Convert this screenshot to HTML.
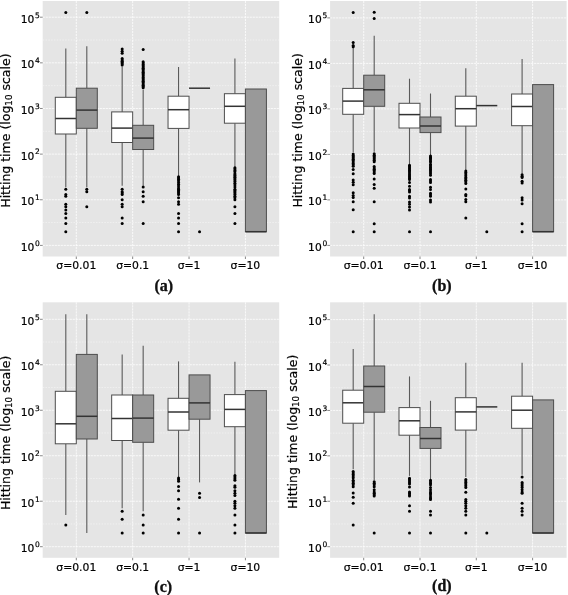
<!DOCTYPE html>
<html lang="en"><head><meta charset="utf-8"><title>Hitting time boxplots</title>
<style>
html,body{margin:0;padding:0;background:#fff;}
svg{display:block;}
text{font-family:"DejaVu Sans","Liberation Sans",sans-serif;fill:#000;stroke:#000;stroke-width:0.2;}
.yl{font-size:10.7px;}
.sup{font-size:7.5px;}
.xl{font-size:10.8px;}
.al{font-size:12.5px;}
.sub{font-size:8.75px;}
.cap{font-family:"Liberation Serif",serif;font-weight:bold;font-size:16px;fill:#111;stroke-width:0.3;}
.gM{stroke:#fff;stroke-width:0.85;stroke-opacity:0.92;stroke-dasharray:2.2 0.8;}
.gm{stroke:#fff;stroke-width:0.6;stroke-opacity:0.7;stroke-dasharray:1.6 1.2;}
.tk{stroke:#555;stroke-width:0.7;}
.wh{stroke:#5a5a5a;stroke-width:1.1;}
.bx{stroke:#4d4d4d;stroke-width:1;}
.md{stroke:#333;stroke-width:1.5;}
circle{fill:#000;}
</style></head><body>
<svg width="568" height="595" viewBox="0 0 568 595">
<rect width="568" height="595" fill="#fff"/>
<g transform="translate(0,0)">
<rect x="42.7" y="1" width="236.5" height="255.5" fill="#e5e5e5"/>
<line x1="42.7" x2="279.2" y1="245.4" y2="245.4" class="gM"/>
<line x1="42.7" x2="279.2" y1="199.76" y2="199.76" class="gM"/>
<line x1="42.7" x2="279.2" y1="154.12" y2="154.12" class="gM"/>
<line x1="42.7" x2="279.2" y1="108.48" y2="108.48" class="gM"/>
<line x1="42.7" x2="279.2" y1="62.84" y2="62.84" class="gM"/>
<line x1="42.7" x2="279.2" y1="17.2" y2="17.2" class="gM"/>
<line x1="42.7" x2="279.2" y1="222.58" y2="222.58" class="gm"/>
<line x1="42.7" x2="279.2" y1="176.94" y2="176.94" class="gm"/>
<line x1="42.7" x2="279.2" y1="131.3" y2="131.3" class="gm"/>
<line x1="42.7" x2="279.2" y1="85.66" y2="85.66" class="gm"/>
<line x1="42.7" x2="279.2" y1="40.02" y2="40.02" class="gm"/>
<line x1="76.3" x2="76.3" y1="1" y2="256.5" class="gM"/>
<line x1="76.3" x2="76.3" y1="256.5" y2="259" class="tk"/>
<line x1="132.67" x2="132.67" y1="1" y2="256.5" class="gM"/>
<line x1="132.67" x2="132.67" y1="256.5" y2="259" class="tk"/>
<line x1="189.04" x2="189.04" y1="1" y2="256.5" class="gM"/>
<line x1="189.04" x2="189.04" y1="256.5" y2="259" class="tk"/>
<line x1="245.41" x2="245.41" y1="1" y2="256.5" class="gM"/>
<line x1="245.41" x2="245.41" y1="256.5" y2="259" class="tk"/>
<line x1="39.9" x2="42.7" y1="245.4" y2="245.4" class="tk"/>
<text x="34.3" y="250.9" class="yl" text-anchor="end">10</text><text x="35.0" y="245.7" class="sup">0</text>
<line x1="39.9" x2="42.7" y1="199.76" y2="199.76" class="tk"/>
<text x="34.3" y="205.26" class="yl" text-anchor="end">10</text><text x="35.0" y="200.06" class="sup">1</text>
<line x1="39.9" x2="42.7" y1="154.12" y2="154.12" class="tk"/>
<text x="34.3" y="159.62" class="yl" text-anchor="end">10</text><text x="35.0" y="154.42" class="sup">2</text>
<line x1="39.9" x2="42.7" y1="108.48" y2="108.48" class="tk"/>
<text x="34.3" y="113.98" class="yl" text-anchor="end">10</text><text x="35.0" y="108.78" class="sup">3</text>
<line x1="39.9" x2="42.7" y1="62.84" y2="62.84" class="tk"/>
<text x="34.3" y="68.34" class="yl" text-anchor="end">10</text><text x="35.0" y="63.14" class="sup">4</text>
<line x1="39.9" x2="42.7" y1="17.2" y2="17.2" class="tk"/>
<text x="34.3" y="22.7" class="yl" text-anchor="end">10</text><text x="35.0" y="17.5" class="sup">5</text>
<text x="76.3" y="269.4" class="xl" text-anchor="middle">σ=0.01</text>
<text x="132.67" y="269.4" class="xl" text-anchor="middle">σ=0.1</text>
<text x="189.04" y="269.4" class="xl" text-anchor="middle">σ=1</text>
<text x="245.41" y="269.4" class="xl" text-anchor="middle">σ=10</text>
<text transform="translate(9.6,130.6) rotate(-90)" class="al" text-anchor="middle">Hitting time (log<tspan class="sub" dy="2.2">10</tspan><tspan dy="-2.2"> scale)</tspan></text>
<text x="163.8" y="291.1" class="cap" text-anchor="middle">(a)</text>
<line x1="65.8" x2="65.8" y1="48.5" y2="97.3" class="wh"/>
<line x1="65.8" x2="65.8" y1="134" y2="187.3" class="wh"/>
<rect x="55.3" y="97.3" width="21" height="36.7" fill="#ffffff" class="bx"/>
<line x1="55.3" x2="76.3" y1="118.5" y2="118.5" class="md"/>
<circle cx="65.8" cy="12.5" r="1.5"/>
<circle cx="65.8" cy="189.24" r="1.5"/>
<circle cx="65.8" cy="194.56" r="1.5"/>
<circle cx="65.8" cy="196.15" r="1.5"/>
<circle cx="65.8" cy="204.18" r="1.5"/>
<circle cx="65.8" cy="206.83" r="1.5"/>
<circle cx="65.8" cy="209.89" r="1.5"/>
<circle cx="65.8" cy="213.5" r="1.5"/>
<circle cx="65.8" cy="217.92" r="1.5"/>
<circle cx="65.8" cy="223.62" r="1.5"/>
<circle cx="65.8" cy="231.66" r="1.5"/>
<line x1="86.8" x2="86.8" y1="46.3" y2="88.2" class="wh"/>
<line x1="86.8" x2="86.8" y1="128.3" y2="187.3" class="wh"/>
<rect x="76.3" y="88.2" width="21" height="40.1" fill="#999999" class="bx"/>
<line x1="76.3" x2="97.3" y1="110.1" y2="110.1" class="md"/>
<circle cx="86.8" cy="12.5" r="1.5"/>
<circle cx="86.8" cy="189.24" r="1.5"/>
<circle cx="86.8" cy="191.72" r="1.5"/>
<circle cx="86.8" cy="206.83" r="1.5"/>
<line x1="122.17" x2="122.17" y1="66.4" y2="111.9" class="wh"/>
<line x1="122.17" x2="122.17" y1="142.5" y2="185.7" class="wh"/>
<rect x="111.67" y="111.9" width="21" height="30.6" fill="#ffffff" class="bx"/>
<line x1="111.67" x2="132.67" y1="128.1" y2="128.1" class="md"/>
<circle cx="122.17" cy="49" r="1.5"/>
<circle cx="122.17" cy="51.2" r="1.5"/>
<circle cx="122.17" cy="53.3" r="1.5"/>
<circle cx="122.17" cy="58.6" r="1.5"/>
<circle cx="122.17" cy="59.9" r="1.5"/>
<circle cx="122.17" cy="61.2" r="1.5"/>
<circle cx="122.17" cy="62.5" r="1.5"/>
<circle cx="122.17" cy="63.8" r="1.5"/>
<circle cx="122.17" cy="65.1" r="1.5"/>
<circle cx="122.17" cy="189.24" r="1.5"/>
<circle cx="122.17" cy="191.72" r="1.5"/>
<circle cx="122.17" cy="193.09" r="1.5"/>
<circle cx="122.17" cy="194.56" r="1.5"/>
<circle cx="122.17" cy="199.76" r="1.5"/>
<circle cx="122.17" cy="204.18" r="1.5"/>
<circle cx="122.17" cy="206.83" r="1.5"/>
<circle cx="122.17" cy="217.92" r="1.5"/>
<circle cx="122.17" cy="223.62" r="1.5"/>
<line x1="143.17" x2="143.17" y1="89.8" y2="125.3" class="wh"/>
<line x1="143.17" x2="143.17" y1="149.5" y2="185.7" class="wh"/>
<rect x="132.67" y="125.3" width="21" height="24.2" fill="#999999" class="bx"/>
<line x1="132.67" x2="153.67" y1="138.1" y2="138.1" class="md"/>
<circle cx="143.17" cy="49.5" r="1.5"/>
<circle cx="143.17" cy="61.8" r="1.5"/>
<circle cx="143.17" cy="63.1" r="1.5"/>
<circle cx="143.17" cy="64.4" r="1.5"/>
<circle cx="143.17" cy="65.7" r="1.5"/>
<circle cx="143.17" cy="67" r="1.5"/>
<circle cx="143.17" cy="68.3" r="1.5"/>
<circle cx="143.17" cy="69.6" r="1.5"/>
<circle cx="143.17" cy="70.9" r="1.5"/>
<circle cx="143.17" cy="72.2" r="1.5"/>
<circle cx="143.17" cy="73.5" r="1.5"/>
<circle cx="143.17" cy="74.8" r="1.5"/>
<circle cx="143.17" cy="76.1" r="1.5"/>
<circle cx="143.17" cy="77.4" r="1.5"/>
<circle cx="143.17" cy="78.7" r="1.5"/>
<circle cx="143.17" cy="80" r="1.5"/>
<circle cx="143.17" cy="81.3" r="1.5"/>
<circle cx="143.17" cy="82.6" r="1.5"/>
<circle cx="143.17" cy="83.9" r="1.5"/>
<circle cx="143.17" cy="85.2" r="1.5"/>
<circle cx="143.17" cy="86.5" r="1.5"/>
<circle cx="143.17" cy="87.8" r="1.5"/>
<circle cx="143.17" cy="187.04" r="1.5"/>
<circle cx="143.17" cy="191.72" r="1.5"/>
<circle cx="143.17" cy="196.15" r="1.5"/>
<circle cx="143.17" cy="201.85" r="1.5"/>
<circle cx="143.17" cy="223.62" r="1.5"/>
<line x1="178.54" x2="178.54" y1="67" y2="96.2" class="wh"/>
<line x1="178.54" x2="178.54" y1="128.4" y2="176.4" class="wh"/>
<rect x="168.04" y="96.2" width="21" height="32.2" fill="#ffffff" class="bx"/>
<line x1="168.04" x2="189.04" y1="109.7" y2="109.7" class="md"/>
<circle cx="178.54" cy="176.7" r="1.5"/>
<circle cx="178.54" cy="177.98" r="1.5"/>
<circle cx="178.54" cy="179.35" r="1.5"/>
<circle cx="178.54" cy="180.82" r="1.5"/>
<circle cx="178.54" cy="182.41" r="1.5"/>
<circle cx="178.54" cy="184.13" r="1.5"/>
<circle cx="178.54" cy="186.02" r="1.5"/>
<circle cx="178.54" cy="188.11" r="1.5"/>
<circle cx="178.54" cy="189.24" r="1.5"/>
<circle cx="178.54" cy="190.44" r="1.5"/>
<circle cx="178.54" cy="191.72" r="1.5"/>
<circle cx="178.54" cy="193.09" r="1.5"/>
<circle cx="178.54" cy="194.56" r="1.5"/>
<circle cx="178.54" cy="197.87" r="1.5"/>
<circle cx="178.54" cy="201.85" r="1.5"/>
<circle cx="178.54" cy="204.18" r="1.5"/>
<circle cx="178.54" cy="213.5" r="1.5"/>
<circle cx="178.54" cy="217.92" r="1.5"/>
<circle cx="178.54" cy="223.62" r="1.5"/>
<circle cx="178.54" cy="231.66" r="1.5"/>
<line x1="189.04" x2="210.04" y1="88.2" y2="88.2" class="md"/>
<circle cx="199.54" cy="231.66" r="1.5"/>
<line x1="234.91" x2="234.91" y1="58.6" y2="93.7" class="wh"/>
<line x1="234.91" x2="234.91" y1="123.2" y2="167.6" class="wh"/>
<rect x="224.41" y="93.7" width="21" height="29.5" fill="#ffffff" class="bx"/>
<line x1="224.41" x2="245.41" y1="106.3" y2="106.3" class="md"/>
<circle cx="234.91" cy="167.86" r="1.5"/>
<circle cx="234.91" cy="169.09" r="1.5"/>
<circle cx="234.91" cy="170.39" r="1.5"/>
<circle cx="234.91" cy="171.79" r="1.5"/>
<circle cx="234.91" cy="173.83" r="1.5"/>
<circle cx="234.91" cy="174.93" r="1.5"/>
<circle cx="234.91" cy="176.1" r="1.5"/>
<circle cx="234.91" cy="177.33" r="1.5"/>
<circle cx="234.91" cy="178.66" r="1.5"/>
<circle cx="234.91" cy="180.07" r="1.5"/>
<circle cx="234.91" cy="181.6" r="1.5"/>
<circle cx="234.91" cy="183.25" r="1.5"/>
<circle cx="234.91" cy="185.05" r="1.5"/>
<circle cx="234.91" cy="187.04" r="1.5"/>
<circle cx="234.91" cy="189.24" r="1.5"/>
<circle cx="234.91" cy="190.44" r="1.5"/>
<circle cx="234.91" cy="191.72" r="1.5"/>
<circle cx="234.91" cy="193.09" r="1.5"/>
<circle cx="234.91" cy="194.56" r="1.5"/>
<circle cx="234.91" cy="196.15" r="1.5"/>
<circle cx="234.91" cy="197.87" r="1.5"/>
<circle cx="234.91" cy="199.76" r="1.5"/>
<circle cx="234.91" cy="206.83" r="1.5"/>
<circle cx="234.91" cy="213.5" r="1.5"/>
<circle cx="234.91" cy="223.62" r="1.5"/>
<rect x="245.41" y="89" width="21" height="142.7" fill="#999999" class="bx"/>
<line x1="245.41" x2="266.41" y1="231.7" y2="231.7" class="md"/>
</g>
<g transform="translate(287.4,0)">
<rect x="42.7" y="1" width="236.5" height="255.5" fill="#e5e5e5"/>
<line x1="42.7" x2="279.2" y1="245.4" y2="245.4" class="gM"/>
<line x1="42.7" x2="279.2" y1="199.9" y2="199.9" class="gM"/>
<line x1="42.7" x2="279.2" y1="154.4" y2="154.4" class="gM"/>
<line x1="42.7" x2="279.2" y1="108.9" y2="108.9" class="gM"/>
<line x1="42.7" x2="279.2" y1="63.4" y2="63.4" class="gM"/>
<line x1="42.7" x2="279.2" y1="17.9" y2="17.9" class="gM"/>
<line x1="42.7" x2="279.2" y1="222.65" y2="222.65" class="gm"/>
<line x1="42.7" x2="279.2" y1="177.15" y2="177.15" class="gm"/>
<line x1="42.7" x2="279.2" y1="131.65" y2="131.65" class="gm"/>
<line x1="42.7" x2="279.2" y1="86.15" y2="86.15" class="gm"/>
<line x1="42.7" x2="279.2" y1="40.65" y2="40.65" class="gm"/>
<line x1="76.3" x2="76.3" y1="1" y2="256.5" class="gM"/>
<line x1="76.3" x2="76.3" y1="256.5" y2="259" class="tk"/>
<line x1="132.6" x2="132.6" y1="1" y2="256.5" class="gM"/>
<line x1="132.6" x2="132.6" y1="256.5" y2="259" class="tk"/>
<line x1="188.9" x2="188.9" y1="1" y2="256.5" class="gM"/>
<line x1="188.9" x2="188.9" y1="256.5" y2="259" class="tk"/>
<line x1="245.2" x2="245.2" y1="1" y2="256.5" class="gM"/>
<line x1="245.2" x2="245.2" y1="256.5" y2="259" class="tk"/>
<line x1="39.9" x2="42.7" y1="245.4" y2="245.4" class="tk"/>
<text x="34.3" y="250.9" class="yl" text-anchor="end">10</text><text x="35.0" y="245.7" class="sup">0</text>
<line x1="39.9" x2="42.7" y1="199.9" y2="199.9" class="tk"/>
<text x="34.3" y="205.4" class="yl" text-anchor="end">10</text><text x="35.0" y="200.2" class="sup">1</text>
<line x1="39.9" x2="42.7" y1="154.4" y2="154.4" class="tk"/>
<text x="34.3" y="159.9" class="yl" text-anchor="end">10</text><text x="35.0" y="154.7" class="sup">2</text>
<line x1="39.9" x2="42.7" y1="108.9" y2="108.9" class="tk"/>
<text x="34.3" y="114.4" class="yl" text-anchor="end">10</text><text x="35.0" y="109.2" class="sup">3</text>
<line x1="39.9" x2="42.7" y1="63.4" y2="63.4" class="tk"/>
<text x="34.3" y="68.9" class="yl" text-anchor="end">10</text><text x="35.0" y="63.7" class="sup">4</text>
<line x1="39.9" x2="42.7" y1="17.9" y2="17.9" class="tk"/>
<text x="34.3" y="23.4" class="yl" text-anchor="end">10</text><text x="35.0" y="18.2" class="sup">5</text>
<text x="76.3" y="269.4" class="xl" text-anchor="middle">σ=0.01</text>
<text x="132.6" y="269.4" class="xl" text-anchor="middle">σ=0.1</text>
<text x="188.9" y="269.4" class="xl" text-anchor="middle">σ=1</text>
<text x="245.2" y="269.4" class="xl" text-anchor="middle">σ=10</text>
<text transform="translate(14.4,130.4) rotate(-90)" class="al" text-anchor="middle">Hitting time (log<tspan class="sub" dy="2.2">10</tspan><tspan dy="-2.2"> scale)</tspan></text>
<text x="154.5" y="291" class="cap" text-anchor="middle">(b)</text>
<line x1="65.8" x2="65.8" y1="47.5" y2="88.4" class="wh"/>
<line x1="65.8" x2="65.8" y1="114.3" y2="152" class="wh"/>
<rect x="55.3" y="88.4" width="21" height="25.9" fill="#ffffff" class="bx"/>
<line x1="55.3" x2="76.3" y1="101.1" y2="101.1" class="md"/>
<circle cx="65.8" cy="12.5" r="1.5"/>
<circle cx="65.8" cy="42.6" r="1.5"/>
<circle cx="65.8" cy="45.6" r="1.5"/>
<circle cx="65.8" cy="46.8" r="1.5"/>
<circle cx="65.8" cy="154.01" r="1.5"/>
<circle cx="65.8" cy="155.41" r="1.5"/>
<circle cx="65.8" cy="156.7" r="1.5"/>
<circle cx="65.8" cy="158.08" r="1.5"/>
<circle cx="65.8" cy="159.31" r="1.5"/>
<circle cx="65.8" cy="160.62" r="1.5"/>
<circle cx="65.8" cy="162.02" r="1.5"/>
<circle cx="65.8" cy="163.53" r="1.5"/>
<circle cx="65.8" cy="164.83" r="1.5"/>
<circle cx="65.8" cy="166.21" r="1.5"/>
<circle cx="65.8" cy="169.6" r="1.5"/>
<circle cx="65.8" cy="173.8" r="1.5"/>
<circle cx="65.8" cy="180.1" r="1.5"/>
<circle cx="65.8" cy="182.3" r="1.5"/>
<circle cx="65.8" cy="184.8" r="1.5"/>
<circle cx="65.8" cy="192.8" r="1.5"/>
<circle cx="65.8" cy="195.4" r="1.5"/>
<circle cx="65.8" cy="197.5" r="1.5"/>
<circle cx="65.8" cy="201.7" r="1.5"/>
<circle cx="65.8" cy="209.7" r="1.5"/>
<circle cx="65.8" cy="231.7" r="1.5"/>
<line x1="86.8" x2="86.8" y1="35.8" y2="75.2" class="wh"/>
<line x1="86.8" x2="86.8" y1="106.3" y2="151.7" class="wh"/>
<rect x="76.3" y="75.2" width="21" height="31.1" fill="#999999" class="bx"/>
<line x1="76.3" x2="97.3" y1="89.8" y2="89.8" class="md"/>
<circle cx="86.8" cy="12.3" r="1.5"/>
<circle cx="86.8" cy="18.6" r="1.5"/>
<circle cx="86.8" cy="153.82" r="1.5"/>
<circle cx="86.8" cy="155.21" r="1.5"/>
<circle cx="86.8" cy="156.48" r="1.5"/>
<circle cx="86.8" cy="157.85" r="1.5"/>
<circle cx="86.8" cy="159.06" r="1.5"/>
<circle cx="86.8" cy="160.35" r="1.5"/>
<circle cx="86.8" cy="161.73" r="1.5"/>
<circle cx="86.8" cy="166.58" r="1.5"/>
<circle cx="86.8" cy="168.1" r="1.5"/>
<circle cx="86.8" cy="169.32" r="1.5"/>
<circle cx="86.8" cy="170.62" r="1.5"/>
<circle cx="86.8" cy="172.02" r="1.5"/>
<circle cx="86.8" cy="173.52" r="1.5"/>
<circle cx="86.8" cy="179.1" r="1.5"/>
<circle cx="86.8" cy="184.4" r="1.5"/>
<circle cx="86.8" cy="188.2" r="1.5"/>
<circle cx="86.8" cy="201.7" r="1.5"/>
<circle cx="86.8" cy="223.69" r="1.5"/>
<circle cx="86.8" cy="231.7" r="1.5"/>
<line x1="122.1" x2="122.1" y1="78.7" y2="103.3" class="wh"/>
<line x1="122.1" x2="122.1" y1="128" y2="165" class="wh"/>
<rect x="111.6" y="103.3" width="21" height="24.7" fill="#ffffff" class="bx"/>
<line x1="111.6" x2="132.6" y1="114.6" y2="114.6" class="md"/>
<circle cx="122.1" cy="165.16" r="1.5"/>
<circle cx="122.1" cy="166.58" r="1.5"/>
<circle cx="122.1" cy="167.71" r="1.5"/>
<circle cx="122.1" cy="168.9" r="1.5"/>
<circle cx="122.1" cy="170.18" r="1.5"/>
<circle cx="122.1" cy="171.54" r="1.5"/>
<circle cx="122.1" cy="173.01" r="1.5"/>
<circle cx="122.1" cy="174.59" r="1.5"/>
<circle cx="122.1" cy="175.72" r="1.5"/>
<circle cx="122.1" cy="176.92" r="1.5"/>
<circle cx="122.1" cy="178.19" r="1.5"/>
<circle cx="122.1" cy="179.55" r="1.5"/>
<circle cx="122.1" cy="182.6" r="1.5"/>
<circle cx="122.1" cy="186.2" r="1.5"/>
<circle cx="122.1" cy="189.41" r="1.5"/>
<circle cx="122.1" cy="190.61" r="1.5"/>
<circle cx="122.1" cy="191.89" r="1.5"/>
<circle cx="122.1" cy="196.3" r="1.5"/>
<circle cx="122.1" cy="198.02" r="1.5"/>
<circle cx="122.1" cy="201.98" r="1.5"/>
<circle cx="122.1" cy="204.31" r="1.5"/>
<circle cx="122.1" cy="206.95" r="1.5"/>
<circle cx="122.1" cy="209.99" r="1.5"/>
<circle cx="122.1" cy="231.7" r="1.5"/>
<line x1="143.1" x2="143.1" y1="93.5" y2="117" class="wh"/>
<line x1="143.1" x2="143.1" y1="132.6" y2="155.8" class="wh"/>
<rect x="132.6" y="117" width="21" height="15.6" fill="#999999" class="bx"/>
<line x1="132.6" x2="153.6" y1="126" y2="126" class="md"/>
<circle cx="143.1" cy="156.05" r="1.5"/>
<circle cx="143.1" cy="157.15" r="1.5"/>
<circle cx="143.1" cy="158.32" r="1.5"/>
<circle cx="143.1" cy="159.56" r="1.5"/>
<circle cx="143.1" cy="160.89" r="1.5"/>
<circle cx="143.1" cy="162.02" r="1.5"/>
<circle cx="143.1" cy="164.17" r="1.5"/>
<circle cx="143.1" cy="165.51" r="1.5"/>
<circle cx="143.1" cy="166.95" r="1.5"/>
<circle cx="143.1" cy="168.1" r="1.5"/>
<circle cx="143.1" cy="169.32" r="1.5"/>
<circle cx="143.1" cy="170.62" r="1.5"/>
<circle cx="143.1" cy="172.02" r="1.5"/>
<circle cx="143.1" cy="173.52" r="1.5"/>
<circle cx="143.1" cy="175.14" r="1.5"/>
<circle cx="143.1" cy="179.55" r="1.5"/>
<circle cx="143.1" cy="181.02" r="1.5"/>
<circle cx="143.1" cy="182.6" r="1.5"/>
<circle cx="143.1" cy="187.22" r="1.5"/>
<circle cx="143.1" cy="189.41" r="1.5"/>
<circle cx="143.1" cy="193.25" r="1.5"/>
<circle cx="143.1" cy="194.72" r="1.5"/>
<circle cx="143.1" cy="196.3" r="1.5"/>
<circle cx="143.1" cy="199.9" r="1.5"/>
<circle cx="143.1" cy="201.98" r="1.5"/>
<circle cx="143.1" cy="231.7" r="1.5"/>
<line x1="178.4" x2="178.4" y1="68.2" y2="96.2" class="wh"/>
<line x1="178.4" x2="178.4" y1="126.1" y2="170.4" class="wh"/>
<rect x="167.9" y="96.2" width="21" height="29.9" fill="#ffffff" class="bx"/>
<line x1="167.9" x2="188.9" y1="108.7" y2="108.7" class="md"/>
<circle cx="178.4" cy="171.08" r="1.5"/>
<circle cx="178.4" cy="172.51" r="1.5"/>
<circle cx="178.4" cy="174.05" r="1.5"/>
<circle cx="178.4" cy="175.72" r="1.5"/>
<circle cx="178.4" cy="177.54" r="1.5"/>
<circle cx="178.4" cy="178.86" r="1.5"/>
<circle cx="178.4" cy="180.27" r="1.5"/>
<circle cx="178.4" cy="181.79" r="1.5"/>
<circle cx="178.4" cy="183.44" r="1.5"/>
<circle cx="178.4" cy="189" r="1.5"/>
<circle cx="178.4" cy="194.5" r="1.5"/>
<circle cx="178.4" cy="195.8" r="1.5"/>
<circle cx="178.4" cy="199.5" r="1.5"/>
<circle cx="178.4" cy="201.7" r="1.5"/>
<circle cx="178.4" cy="218.01" r="1.5"/>
<line x1="188.9" x2="209.9" y1="105.6" y2="105.6" class="md"/>
<circle cx="199.4" cy="231.7" r="1.5"/>
<line x1="234.7" x2="234.7" y1="59" y2="94" class="wh"/>
<line x1="234.7" x2="234.7" y1="125.7" y2="173.7" class="wh"/>
<rect x="224.2" y="94" width="21" height="31.7" fill="#ffffff" class="bx"/>
<line x1="224.2" x2="245.2" y1="106.5" y2="106.5" class="md"/>
<circle cx="234.7" cy="174.8" r="1.5"/>
<circle cx="234.7" cy="176.2" r="1.5"/>
<circle cx="234.7" cy="177.6" r="1.5"/>
<circle cx="234.7" cy="181.3" r="1.5"/>
<circle cx="234.7" cy="182.9" r="1.5"/>
<circle cx="234.7" cy="197.7" r="1.5"/>
<circle cx="234.7" cy="199.9" r="1.5"/>
<circle cx="234.7" cy="203.8" r="1.5"/>
<circle cx="234.7" cy="223.69" r="1.5"/>
<circle cx="234.7" cy="231.7" r="1.5"/>
<rect x="245.2" y="84.6" width="21" height="147.1" fill="#999999" class="bx"/>
<line x1="245.2" x2="266.2" y1="231.7" y2="231.7" class="md"/>
</g>
<g transform="translate(0,301.3)">
<rect x="42.7" y="1" width="236.5" height="255.5" fill="#e5e5e5"/>
<line x1="42.7" x2="279.2" y1="245.4" y2="245.4" class="gM"/>
<line x1="42.7" x2="279.2" y1="199.92" y2="199.92" class="gM"/>
<line x1="42.7" x2="279.2" y1="154.44" y2="154.44" class="gM"/>
<line x1="42.7" x2="279.2" y1="108.96" y2="108.96" class="gM"/>
<line x1="42.7" x2="279.2" y1="63.48" y2="63.48" class="gM"/>
<line x1="42.7" x2="279.2" y1="18" y2="18" class="gM"/>
<line x1="42.7" x2="279.2" y1="222.66" y2="222.66" class="gm"/>
<line x1="42.7" x2="279.2" y1="177.18" y2="177.18" class="gm"/>
<line x1="42.7" x2="279.2" y1="131.7" y2="131.7" class="gm"/>
<line x1="42.7" x2="279.2" y1="86.22" y2="86.22" class="gm"/>
<line x1="42.7" x2="279.2" y1="40.74" y2="40.74" class="gm"/>
<line x1="76.3" x2="76.3" y1="1" y2="256.5" class="gM"/>
<line x1="76.3" x2="76.3" y1="256.5" y2="259" class="tk"/>
<line x1="132.67" x2="132.67" y1="1" y2="256.5" class="gM"/>
<line x1="132.67" x2="132.67" y1="256.5" y2="259" class="tk"/>
<line x1="189.04" x2="189.04" y1="1" y2="256.5" class="gM"/>
<line x1="189.04" x2="189.04" y1="256.5" y2="259" class="tk"/>
<line x1="245.41" x2="245.41" y1="1" y2="256.5" class="gM"/>
<line x1="245.41" x2="245.41" y1="256.5" y2="259" class="tk"/>
<line x1="39.9" x2="42.7" y1="245.4" y2="245.4" class="tk"/>
<text x="34.3" y="250.9" class="yl" text-anchor="end">10</text><text x="35.0" y="245.7" class="sup">0</text>
<line x1="39.9" x2="42.7" y1="199.92" y2="199.92" class="tk"/>
<text x="34.3" y="205.42" class="yl" text-anchor="end">10</text><text x="35.0" y="200.22" class="sup">1</text>
<line x1="39.9" x2="42.7" y1="154.44" y2="154.44" class="tk"/>
<text x="34.3" y="159.94" class="yl" text-anchor="end">10</text><text x="35.0" y="154.74" class="sup">2</text>
<line x1="39.9" x2="42.7" y1="108.96" y2="108.96" class="tk"/>
<text x="34.3" y="114.46" class="yl" text-anchor="end">10</text><text x="35.0" y="109.26" class="sup">3</text>
<line x1="39.9" x2="42.7" y1="63.48" y2="63.48" class="tk"/>
<text x="34.3" y="68.98" class="yl" text-anchor="end">10</text><text x="35.0" y="63.78" class="sup">4</text>
<line x1="39.9" x2="42.7" y1="18" y2="18" class="tk"/>
<text x="34.3" y="23.5" class="yl" text-anchor="end">10</text><text x="35.0" y="18.3" class="sup">5</text>
<text x="76.3" y="269.8" class="xl" text-anchor="middle">σ=0.01</text>
<text x="132.67" y="269.8" class="xl" text-anchor="middle">σ=0.1</text>
<text x="189.04" y="269.8" class="xl" text-anchor="middle">σ=1</text>
<text x="245.41" y="269.8" class="xl" text-anchor="middle">σ=10</text>
<text transform="translate(9.6,131.6) rotate(-90)" class="al" text-anchor="middle">Hitting time (log<tspan class="sub" dy="2.2">10</tspan><tspan dy="-2.2"> scale)</tspan></text>
<text x="163.2" y="290.3" class="cap" text-anchor="middle">(c)</text>
<line x1="65.8" x2="65.8" y1="13" y2="90" class="wh"/>
<line x1="65.8" x2="65.8" y1="142.5" y2="213.6" class="wh"/>
<rect x="55.3" y="90" width="21" height="52.5" fill="#ffffff" class="bx"/>
<line x1="55.3" x2="76.3" y1="122.5" y2="122.5" class="md"/>
<circle cx="65.8" cy="223.7" r="1.5"/>
<line x1="86.8" x2="86.8" y1="13" y2="53.1" class="wh"/>
<line x1="86.8" x2="86.8" y1="137.7" y2="231.7" class="wh"/>
<rect x="76.3" y="53.1" width="21" height="84.6" fill="#999999" class="bx"/>
<line x1="76.3" x2="97.3" y1="115" y2="115" class="md"/>
<line x1="122.17" x2="122.17" y1="53.3" y2="93.7" class="wh"/>
<line x1="122.17" x2="122.17" y1="139.2" y2="206.95" class="wh"/>
<rect x="111.67" y="93.7" width="21" height="45.5" fill="#ffffff" class="bx"/>
<line x1="111.67" x2="132.67" y1="117.2" y2="117.2" class="md"/>
<circle cx="122.17" cy="210.01" r="1.5"/>
<circle cx="122.17" cy="218.02" r="1.5"/>
<circle cx="122.17" cy="231.71" r="1.5"/>
<line x1="143.17" x2="143.17" y1="44.5" y2="93.7" class="wh"/>
<line x1="143.17" x2="143.17" y1="141" y2="209.99" class="wh"/>
<rect x="132.67" y="93.7" width="21" height="47.3" fill="#999999" class="bx"/>
<line x1="132.67" x2="153.67" y1="116.8" y2="116.8" class="md"/>
<circle cx="143.17" cy="213.61" r="1.5"/>
<circle cx="143.17" cy="223.7" r="1.5"/>
<circle cx="143.17" cy="231.71" r="1.5"/>
<line x1="178.54" x2="178.54" y1="60.1" y2="97" class="wh"/>
<line x1="178.54" x2="178.54" y1="128.9" y2="175.7" class="wh"/>
<rect x="168.04" y="97" width="21" height="31.9" fill="#ffffff" class="bx"/>
<line x1="168.04" x2="189.04" y1="110.7" y2="110.7" class="md"/>
<circle cx="178.54" cy="176.7" r="1.5"/>
<circle cx="178.54" cy="178.3" r="1.5"/>
<circle cx="178.54" cy="180" r="1.5"/>
<circle cx="178.54" cy="185.27" r="1.5"/>
<circle cx="178.54" cy="189.44" r="1.5"/>
<circle cx="178.54" cy="198.04" r="1.5"/>
<circle cx="178.54" cy="206.96" r="1.5"/>
<circle cx="178.54" cy="218.02" r="1.5"/>
<circle cx="178.54" cy="231.71" r="1.5"/>
<line x1="199.54" x2="199.54" y1="117.9" y2="181.1" class="wh"/>
<rect x="189.04" y="73.6" width="21" height="44.3" fill="#999999" class="bx"/>
<line x1="189.04" x2="210.04" y1="101.6" y2="101.6" class="md"/>
<circle cx="199.54" cy="191.91" r="1.5"/>
<circle cx="199.54" cy="196.32" r="1.5"/>
<circle cx="199.54" cy="231.71" r="1.5"/>
<line x1="234.91" x2="234.91" y1="60.5" y2="93.3" class="wh"/>
<line x1="234.91" x2="234.91" y1="125.4" y2="173.4" class="wh"/>
<rect x="224.41" y="93.3" width="21" height="32.1" fill="#ffffff" class="bx"/>
<line x1="224.41" x2="245.41" y1="108.1" y2="108.1" class="md"/>
<circle cx="234.91" cy="174.08" r="1.5"/>
<circle cx="234.91" cy="175.75" r="1.5"/>
<circle cx="234.91" cy="177.57" r="1.5"/>
<circle cx="234.91" cy="178.89" r="1.5"/>
<circle cx="234.91" cy="184.4" r="1.5"/>
<circle cx="234.91" cy="185.9" r="1.5"/>
<circle cx="234.91" cy="189.4" r="1.5"/>
<circle cx="234.91" cy="192" r="1.5"/>
<circle cx="234.91" cy="194.2" r="1.5"/>
<circle cx="234.91" cy="199.92" r="1.5"/>
<circle cx="234.91" cy="202" r="1.5"/>
<circle cx="234.91" cy="204.33" r="1.5"/>
<circle cx="234.91" cy="206.96" r="1.5"/>
<circle cx="234.91" cy="213.61" r="1.5"/>
<circle cx="234.91" cy="223.7" r="1.5"/>
<circle cx="234.91" cy="231.71" r="1.5"/>
<rect x="245.41" y="89.3" width="21" height="142.4" fill="#999999" class="bx"/>
<line x1="245.41" x2="266.41" y1="231.7" y2="231.7" class="md"/>
</g>
<g transform="translate(287.4,301.3)">
<rect x="42.7" y="1" width="236.5" height="255.5" fill="#e5e5e5"/>
<line x1="42.7" x2="279.2" y1="245.4" y2="245.4" class="gM"/>
<line x1="42.7" x2="279.2" y1="199.98" y2="199.98" class="gM"/>
<line x1="42.7" x2="279.2" y1="154.56" y2="154.56" class="gM"/>
<line x1="42.7" x2="279.2" y1="109.14" y2="109.14" class="gM"/>
<line x1="42.7" x2="279.2" y1="63.72" y2="63.72" class="gM"/>
<line x1="42.7" x2="279.2" y1="18.3" y2="18.3" class="gM"/>
<line x1="42.7" x2="279.2" y1="222.69" y2="222.69" class="gm"/>
<line x1="42.7" x2="279.2" y1="177.27" y2="177.27" class="gm"/>
<line x1="42.7" x2="279.2" y1="131.85" y2="131.85" class="gm"/>
<line x1="42.7" x2="279.2" y1="86.43" y2="86.43" class="gm"/>
<line x1="42.7" x2="279.2" y1="41.01" y2="41.01" class="gm"/>
<line x1="76.3" x2="76.3" y1="1" y2="256.5" class="gM"/>
<line x1="76.3" x2="76.3" y1="256.5" y2="259" class="tk"/>
<line x1="132.6" x2="132.6" y1="1" y2="256.5" class="gM"/>
<line x1="132.6" x2="132.6" y1="256.5" y2="259" class="tk"/>
<line x1="188.9" x2="188.9" y1="1" y2="256.5" class="gM"/>
<line x1="188.9" x2="188.9" y1="256.5" y2="259" class="tk"/>
<line x1="245.2" x2="245.2" y1="1" y2="256.5" class="gM"/>
<line x1="245.2" x2="245.2" y1="256.5" y2="259" class="tk"/>
<line x1="39.9" x2="42.7" y1="245.4" y2="245.4" class="tk"/>
<text x="34.3" y="250.9" class="yl" text-anchor="end">10</text><text x="35.0" y="245.7" class="sup">0</text>
<line x1="39.9" x2="42.7" y1="199.98" y2="199.98" class="tk"/>
<text x="34.3" y="205.48" class="yl" text-anchor="end">10</text><text x="35.0" y="200.28" class="sup">1</text>
<line x1="39.9" x2="42.7" y1="154.56" y2="154.56" class="tk"/>
<text x="34.3" y="160.06" class="yl" text-anchor="end">10</text><text x="35.0" y="154.86" class="sup">2</text>
<line x1="39.9" x2="42.7" y1="109.14" y2="109.14" class="tk"/>
<text x="34.3" y="114.64" class="yl" text-anchor="end">10</text><text x="35.0" y="109.44" class="sup">3</text>
<line x1="39.9" x2="42.7" y1="63.72" y2="63.72" class="tk"/>
<text x="34.3" y="69.22" class="yl" text-anchor="end">10</text><text x="35.0" y="64.02" class="sup">4</text>
<line x1="39.9" x2="42.7" y1="18.3" y2="18.3" class="tk"/>
<text x="34.3" y="23.8" class="yl" text-anchor="end">10</text><text x="35.0" y="18.6" class="sup">5</text>
<text x="76.3" y="269.8" class="xl" text-anchor="middle">σ=0.01</text>
<text x="132.6" y="269.8" class="xl" text-anchor="middle">σ=0.1</text>
<text x="188.9" y="269.8" class="xl" text-anchor="middle">σ=1</text>
<text x="245.2" y="269.8" class="xl" text-anchor="middle">σ=10</text>
<text transform="translate(9.3,130.6) rotate(-90)" class="al" text-anchor="middle">Hitting time (log<tspan class="sub" dy="2.2">10</tspan><tspan dy="-2.2"> scale)</tspan></text>
<text x="154.5" y="290" class="cap" text-anchor="middle">(d)</text>
<line x1="65.8" x2="65.8" y1="47.6" y2="88.9" class="wh"/>
<line x1="65.8" x2="65.8" y1="121.9" y2="168" class="wh"/>
<rect x="55.3" y="88.9" width="21" height="33" fill="#ffffff" class="bx"/>
<line x1="55.3" x2="76.3" y1="101.5" y2="101.5" class="md"/>
<circle cx="65.8" cy="170.31" r="1.5"/>
<circle cx="65.8" cy="171.67" r="1.5"/>
<circle cx="65.8" cy="173.13" r="1.5"/>
<circle cx="65.8" cy="174.71" r="1.5"/>
<circle cx="65.8" cy="176.43" r="1.5"/>
<circle cx="65.8" cy="178.98" r="1.5"/>
<circle cx="65.8" cy="180.39" r="1.5"/>
<circle cx="65.8" cy="181.91" r="1.5"/>
<circle cx="65.8" cy="183.55" r="1.5"/>
<circle cx="65.8" cy="185.34" r="1.5"/>
<circle cx="65.8" cy="191.6" r="1.5"/>
<circle cx="65.8" cy="196" r="1.5"/>
<circle cx="65.8" cy="202.06" r="1.5"/>
<circle cx="65.8" cy="223.73" r="1.5"/>
<line x1="86.8" x2="86.8" y1="13" y2="64.7" class="wh"/>
<line x1="86.8" x2="86.8" y1="110.9" y2="179" class="wh"/>
<rect x="76.3" y="64.7" width="21" height="46.2" fill="#999999" class="bx"/>
<line x1="76.3" x2="97.3" y1="85.2" y2="85.2" class="md"/>
<circle cx="86.8" cy="180.39" r="1.5"/>
<circle cx="86.8" cy="181.91" r="1.5"/>
<circle cx="86.8" cy="183.55" r="1.5"/>
<circle cx="86.8" cy="185.34" r="1.5"/>
<circle cx="86.8" cy="188.39" r="1.5"/>
<circle cx="86.8" cy="190.71" r="1.5"/>
<circle cx="86.8" cy="191.98" r="1.5"/>
<circle cx="86.8" cy="193.34" r="1.5"/>
<circle cx="86.8" cy="194.8" r="1.5"/>
<circle cx="86.8" cy="231.73" r="1.5"/>
<line x1="122.1" x2="122.1" y1="75.1" y2="106.3" class="wh"/>
<line x1="122.1" x2="122.1" y1="133.9" y2="174.6" class="wh"/>
<rect x="111.6" y="106.3" width="21" height="27.6" fill="#ffffff" class="bx"/>
<line x1="111.6" x2="132.6" y1="119.5" y2="119.5" class="md"/>
<circle cx="122.1" cy="177.04" r="1.5"/>
<circle cx="122.1" cy="178.31" r="1.5"/>
<circle cx="122.1" cy="179.67" r="1.5"/>
<circle cx="122.1" cy="181.13" r="1.5"/>
<circle cx="122.1" cy="182.71" r="1.5"/>
<circle cx="122.1" cy="185.6" r="1.5"/>
<circle cx="122.1" cy="190.71" r="1.5"/>
<circle cx="122.1" cy="191.98" r="1.5"/>
<circle cx="122.1" cy="193.34" r="1.5"/>
<circle cx="122.1" cy="194.8" r="1.5"/>
<circle cx="122.1" cy="204.38" r="1.5"/>
<circle cx="122.1" cy="210.06" r="1.5"/>
<circle cx="122.1" cy="231.73" r="1.5"/>
<line x1="143.1" x2="143.1" y1="99.5" y2="126.2" class="wh"/>
<line x1="143.1" x2="143.1" y1="147.1" y2="178.4" class="wh"/>
<rect x="132.6" y="126.2" width="21" height="20.9" fill="#999999" class="bx"/>
<line x1="132.6" x2="153.6" y1="137.2" y2="137.2" class="md"/>
<circle cx="143.1" cy="178.98" r="1.5"/>
<circle cx="143.1" cy="180.39" r="1.5"/>
<circle cx="143.1" cy="181.91" r="1.5"/>
<circle cx="143.1" cy="183.55" r="1.5"/>
<circle cx="143.1" cy="186.31" r="1.5"/>
<circle cx="143.1" cy="188.39" r="1.5"/>
<circle cx="143.1" cy="190.71" r="1.5"/>
<circle cx="143.1" cy="191.98" r="1.5"/>
<circle cx="143.1" cy="193.34" r="1.5"/>
<circle cx="143.1" cy="195.5" r="1.5"/>
<circle cx="143.1" cy="196.9" r="1.5"/>
<circle cx="143.1" cy="198.2" r="1.5"/>
<circle cx="143.1" cy="210.06" r="1.5"/>
<circle cx="143.1" cy="213.65" r="1.5"/>
<circle cx="143.1" cy="231.73" r="1.5"/>
<line x1="178.4" x2="178.4" y1="61.5" y2="96.4" class="wh"/>
<line x1="178.4" x2="178.4" y1="128.8" y2="175.7" class="wh"/>
<rect x="167.9" y="96.4" width="21" height="32.4" fill="#ffffff" class="bx"/>
<line x1="167.9" x2="188.9" y1="110.6" y2="110.6" class="md"/>
<circle cx="178.4" cy="178.31" r="1.5"/>
<circle cx="178.4" cy="179.67" r="1.5"/>
<circle cx="178.4" cy="181.13" r="1.5"/>
<circle cx="178.4" cy="182.71" r="1.5"/>
<circle cx="178.4" cy="184.43" r="1.5"/>
<circle cx="178.4" cy="186.31" r="1.5"/>
<circle cx="178.4" cy="191" r="1.5"/>
<circle cx="178.4" cy="198.1" r="1.5"/>
<circle cx="178.4" cy="199.98" r="1.5"/>
<circle cx="178.4" cy="202.06" r="1.5"/>
<circle cx="178.4" cy="204.38" r="1.5"/>
<circle cx="178.4" cy="207.02" r="1.5"/>
<circle cx="178.4" cy="210.06" r="1.5"/>
<circle cx="178.4" cy="213.65" r="1.5"/>
<circle cx="178.4" cy="231.73" r="1.5"/>
<line x1="188.9" x2="209.9" y1="105.6" y2="105.6" class="md"/>
<circle cx="199.4" cy="231.73" r="1.5"/>
<line x1="234.7" x2="234.7" y1="61.5" y2="94.9" class="wh"/>
<line x1="234.7" x2="234.7" y1="127" y2="173.5" class="wh"/>
<rect x="224.2" y="94.9" width="21" height="32.1" fill="#ffffff" class="bx"/>
<line x1="224.2" x2="245.2" y1="108.9" y2="108.9" class="md"/>
<circle cx="234.7" cy="175.7" r="1.5"/>
<circle cx="234.7" cy="181.13" r="1.5"/>
<circle cx="234.7" cy="182.71" r="1.5"/>
<circle cx="234.7" cy="184.43" r="1.5"/>
<circle cx="234.7" cy="186.31" r="1.5"/>
<circle cx="234.7" cy="188.39" r="1.5"/>
<circle cx="234.7" cy="190.71" r="1.5"/>
<circle cx="234.7" cy="191.98" r="1.5"/>
<circle cx="234.7" cy="202.06" r="1.5"/>
<circle cx="234.7" cy="207.02" r="1.5"/>
<circle cx="234.7" cy="210.06" r="1.5"/>
<circle cx="234.7" cy="213.65" r="1.5"/>
<rect x="245.2" y="98.6" width="21" height="133.1" fill="#999999" class="bx"/>
<line x1="245.2" x2="266.2" y1="231.7" y2="231.7" class="md"/>
</g>
</svg></body></html>
